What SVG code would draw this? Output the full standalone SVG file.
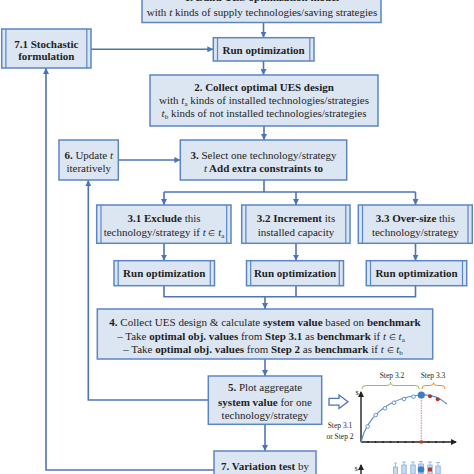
<svg xmlns="http://www.w3.org/2000/svg" width="474" height="474" viewBox="0 0 474 474">
<style>
.box{fill:#dce6f2;stroke:#5b86c3;stroke-width:1.5}
.in{stroke:#5b86c3;stroke-width:1.2}
.c{fill:none;stroke:#4f73b8;stroke-width:1.6}
text{font-family:"Liberation Serif","Times New Roman",serif;font-size:11px;fill:#1e1e1e;text-anchor:middle}
.b{font-weight:bold}
.i{font-style:italic}
.s{font-size:7px}
.e{font-size:8px}
.sm{font-size:7.5px}
.ax{stroke:#222;stroke-width:1.4;fill:none}
</style>
<defs>
<marker id="ah" markerUnits="userSpaceOnUse" markerWidth="6" markerHeight="6" refX="6" refY="3" orient="auto"><path d="M0,0 L6,3 L0,6 z" fill="#4f73b8"/></marker>
<marker id="ak" markerUnits="userSpaceOnUse" markerWidth="6" markerHeight="6" refX="5" refY="3" orient="auto"><path d="M0,0 L6,3 L0,6 z" fill="#222"/></marker>
</defs>
<rect width="474" height="474" fill="#fff"/>

<g id="connectors">
<path class="c" d="M263.5,22.5 V37.7" marker-end="url(#ah)"/>
<path class="c" d="M91,49.3 H213.3" marker-end="url(#ah)"/>
<path class="c" d="M263.5,61 V75" marker-end="url(#ah)"/>
<path class="c" d="M264,126 V140" marker-end="url(#ah)"/>
<path class="c" d="M118.3,160 H180.3" marker-end="url(#ah)"/>
<path class="c" d="M264,180 V192 M164,192 H415.5"/>
<path class="c" d="M164,192 V205" marker-end="url(#ah)"/>
<path class="c" d="M296,192 V205" marker-end="url(#ah)"/>
<path class="c" d="M415.5,192 V205" marker-end="url(#ah)"/>
<path class="c" d="M164,243.3 V260.7" marker-end="url(#ah)"/>
<path class="c" d="M296,243.3 V260.7" marker-end="url(#ah)"/>
<path class="c" d="M415.5,243.3 V260.7" marker-end="url(#ah)"/>
<path class="c" d="M164,285.7 V296.7 H415.5 V285.7 M296,285.7 V296.7"/>
<path class="c" d="M265,296.7 V309" marker-end="url(#ah)"/>
<path class="c" d="M265,359 V376" marker-end="url(#ah)"/>
<path class="c" d="M208.3,400 H88.3 V180" marker-end="url(#ah)"/>
<path class="c" d="M265,424.3 V451" marker-end="url(#ah)"/>
<path class="c" d="M214,470 H46 V68" marker-end="url(#ah)"/>
</g>

<g id="n1">
<rect class="box" x="142" y="-12" width="239" height="34.5"/>
<text class="b" x="262" y="0.8">1. Build UES optimization model</text>
<text x="262" y="16">with <tspan class="i">t</tspan> kinds of supply technologies/saving strategies</text>
</g>

<g id="run0">
<rect class="box" x="213.3" y="37.7" width="100.7" height="23.3"/>
<path class="in" d="M217.5,37.7 V61 M309.8,37.7 V61"/>
<text class="b" x="263.6" y="53.5">Run optimization</text>
</g>

<g id="n71">
<rect class="box" x="1.7" y="29" width="89.3" height="39"/>
<path class="in" d="M5.9,29 V68 M86.8,29 V68"/>
<text class="b" x="46.3" y="47.5">7.1 Stochastic</text>
<text class="b" x="46.3" y="60.3">formulation</text>
</g>

<g id="n2">
<rect class="box" x="150" y="75" width="228" height="51"/>
<text class="b" x="264" y="91">2. Collect optimal UES design</text>
<text x="264" y="104">with <tspan class="i">t</tspan><tspan class="s" dy="2">a</tspan><tspan dy="-2"> kinds of installed technologies/strategies</tspan></text>
<text x="264" y="117"><tspan class="i">t</tspan><tspan class="s" dy="2">b</tspan><tspan dy="-2"> kinds of not installed technologies/strategies</tspan></text>
</g>

<g id="n6">
<rect class="box" x="59" y="140" width="59.3" height="40"/>
<text x="88.7" y="159"><tspan class="b">6.</tspan> Update <tspan class="i">t</tspan></text>
<text x="88.7" y="172">iteratively</text>
</g>

<g id="n3">
<rect class="box" x="180.3" y="140" width="166.4" height="40"/>
<text x="263.5" y="159"><tspan class="b">3.</tspan> Select one technology/strategy</text>
<text x="263.5" y="172"><tspan class="i">t</tspan><tspan class="b"> Add extra constraints to</tspan></text>
</g>

<g id="n31">
<rect class="box" x="96.7" y="205" width="134.3" height="38.3"/>
<path class="in" d="M101,205 V243.3 M226.7,205 V243.3"/>
<text x="164" y="222"><tspan class="b">3.1 Exclude</tspan> this</text>
<text x="164" y="236">technology/strategy if <tspan class="i">t</tspan> <tspan class="e">∈</tspan> <tspan class="i">t</tspan><tspan class="s" dy="2">a</tspan></text>
</g>

<g id="n32">
<rect class="box" x="241.7" y="205" width="108.3" height="38.3"/>
<path class="in" d="M245.9,205 V243.3 M345.8,205 V243.3"/>
<text x="296" y="222"><tspan class="b">3.2 Increment</tspan> its</text>
<text x="296" y="236">installed capacity</text>
</g>

<g id="n33">
<rect class="box" x="358.3" y="205" width="114" height="38.3"/>
<path class="in" d="M362.5,205 V243.3 M468,205 V243.3"/>
<text x="415.3" y="222"><tspan class="b">3.3 Over-size</tspan> this</text>
<text x="415.3" y="236">technology/strategy</text>
</g>

<g id="run1">
<rect class="box" x="114" y="260.7" width="100.5" height="25"/>
<path class="in" d="M118.2,260.7 V285.7 M210.3,260.7 V285.7"/>
<text class="b" x="164.2" y="277.3">Run optimization</text>
</g>
<g id="run2">
<rect class="box" x="246.5" y="260.7" width="97" height="25"/>
<path class="in" d="M250.7,260.7 V285.7 M339.3,260.7 V285.7"/>
<text class="b" x="295" y="277.3">Run optimization</text>
</g>
<g id="run3">
<rect class="box" x="366.3" y="260.7" width="100.4" height="25"/>
<path class="in" d="M370.5,260.7 V285.7 M462.5,260.7 V285.7"/>
<text class="b" x="416.5" y="277.3">Run optimization</text>
</g>

<g id="n4">
<rect class="box" x="97.3" y="309" width="335.4" height="50"/>
<text x="265" y="326"><tspan class="b">4.</tspan> Collect UES design &amp; calculate <tspan class="b">system value</tspan> based on <tspan class="b">benchmark</tspan></text>
<text x="261" y="339.5">– Take <tspan class="b">optimal obj. values</tspan> from <tspan class="b">Step 3.1</tspan> as <tspan class="b">benchmark</tspan> if <tspan class="i">t</tspan> <tspan class="e">∈</tspan> <tspan class="i">t</tspan><tspan class="s" dy="2">a</tspan></text>
<text x="263" y="352.5">–  Take <tspan class="b">optimal obj. values</tspan> from <tspan class="b">Step 2</tspan> as <tspan class="b">benchmark</tspan> if <tspan class="i">t</tspan> <tspan class="e">∈</tspan> <tspan class="i">t</tspan><tspan class="s" dy="2">b</tspan></text>
</g>

<g id="n5">
<rect class="box" x="208.3" y="376" width="113.4" height="48.3"/>
<text x="265" y="391"><tspan class="b">5.</tspan> Plot aggregate</text>
<text x="265" y="405.5"><tspan class="b">system value</tspan> for one</text>
<text x="265" y="419">technology/strategy</text>
</g>

<g id="n7">
<rect class="box" x="214" y="451" width="102" height="40"/>
<text x="265" y="470"><tspan class="b">7. Variation test</tspan> by</text>
</g>

<g id="hollowarrow">
<path d="M329,398.3 H339 V395 L348,401.7 L339,408.4 V405.1 H329 Z" fill="#fff" stroke="#4f73b8" stroke-width="1.3"/>
</g>

<g id="chart1">
<path class="ax" d="M361,442 V392" marker-end="url(#ak)"/>
<path class="ax" d="M361,442 H456" marker-end="url(#ak)"/>
<g fill="#222">
<circle cx="368" cy="442" r="0.9"/><circle cx="375.5" cy="442" r="0.9"/><circle cx="383" cy="442" r="0.9"/><circle cx="390.5" cy="442" r="0.9"/><circle cx="398" cy="442" r="0.9"/><circle cx="405.5" cy="442" r="0.9"/><circle cx="413" cy="442" r="0.9"/><circle cx="428.5" cy="442" r="0.9"/><circle cx="436" cy="442" r="0.9"/><circle cx="443.5" cy="442" r="0.9"/>
</g>
<text class="sm" x="357" y="394.5" style="font-size:6.5px">$</text>
<path d="M421.3,395 V442" stroke="#e06060" stroke-width="0.8" stroke-dasharray="1.5,1" fill="none"/>
<rect x="419.8" y="440.5" width="3" height="3" fill="#c0392b"/>
<path d="M361,442 C366,420 385,398 421.3,395 C432,394 440,398 447,404" fill="none" stroke="#5b8bd0" stroke-width="1.2"/>
<g fill="#fff" stroke="#5b8bd0" stroke-width="0.9">
<circle cx="367.7" cy="426.5" r="1.8"/><circle cx="375.7" cy="415" r="1.8"/><circle cx="385" cy="408.3" r="1.8"/><circle cx="394" cy="402.7" r="1.8"/><circle cx="404" cy="399" r="1.8"/><circle cx="413.5" cy="396.7" r="1.8"/>
</g>
<circle cx="421.3" cy="395" r="3.6" fill="#3d7cc9"/>
<circle cx="430" cy="396.3" r="2" fill="#b0392e"/>
<circle cx="437.7" cy="399.3" r="2" fill="#b0392e"/>
<path d="M362,389 Q362,385.5 366,385.5 H387 Q390.5,385.5 390.5,382.5 Q390.5,385.5 394,385.5 H415.5 Q419.3,385.5 419.3,389" fill="none" stroke="#9bbb59" stroke-width="1"/>
<path d="M422,389 Q422,385.5 425,385.5 H430 Q433.5,385.5 433.5,382.5 Q433.5,385.5 437,385.5 H442 Q445,385.5 445,389" fill="none" stroke="#e8913a" stroke-width="1"/>
<text class="sm" x="392" y="378">Step 3.2</text>
<text class="sm" x="433" y="378">Step 3.3</text>
<text class="sm" x="340" y="428">Step 3.1</text>
<text class="sm" x="340" y="438.5">or Step 2</text>
</g>

<g id="chart2">
<path class="ax" d="M361,474 V465" marker-end="url(#ak)"/>
<text class="sm" x="356" y="471" style="font-size:6.5px">$</text>
<g fill="#c9daf0" stroke="#7da3d8" stroke-width="0.7">
<path d="M394,463 H397 M395.5,463 V467"/><rect x="393.5" y="467" width="4" height="8"/>
<path d="M402,462 H406 M404,462 V465"/><rect x="401.8" y="465" width="4.4" height="9"/>
<path d="M411,462 H415 M413,462 V465"/><rect x="410.8" y="465" width="4.4" height="9"/>
<path d="M419,461.5 H423 M421,461.5 V464"/><rect x="418.5" y="464" width="5" height="10"/>
<path d="M428,462 H432 M430,462 V465"/><rect x="427.8" y="465" width="4.4" height="9"/>
<path d="M436,462.5 H440 M438,462.5 V466"/><rect x="435.8" y="466" width="4.4" height="8"/>
</g>
<circle cx="421" cy="469.5" r="3.3" fill="#3d7cc9"/>
<rect x="428" y="467.5" width="4" height="4" fill="#b0392e"/>
</g>
</svg>
